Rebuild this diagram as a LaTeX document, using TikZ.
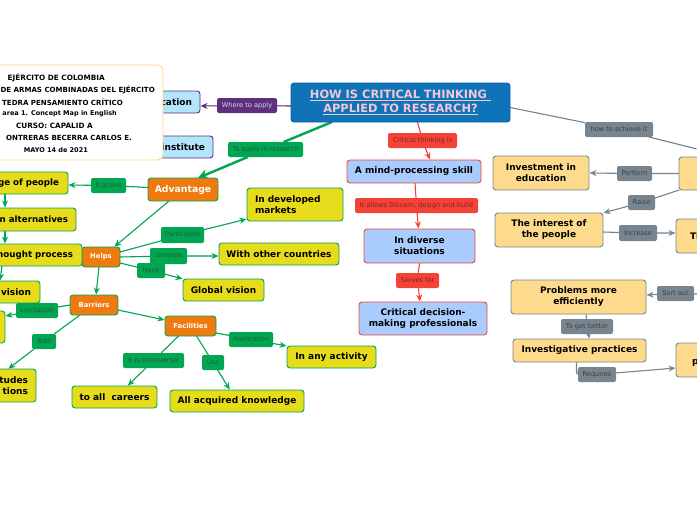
\documentclass[tikz,border=0pt]{standalone}
\usepackage{fontspec}
\setmainfont{DejaVu Sans}
\usetikzlibrary{arrows.meta,backgrounds,calc}
\definecolor{cyel}{HTML}{E7DC1C}
\definecolor{cgrn}{HTML}{00A651}
\definecolor{cgtx}{HTML}{1F5F3C}
\definecolor{corg}{HTML}{EE7A10}
\definecolor{cttl}{HTML}{0F73B8}
\definecolor{cttb}{HTML}{0A5FC0}
\definecolor{cpnk}{HTML}{F6C6D8}
\definecolor{cblu}{HTML}{A9CCFF}
\definecolor{cred}{HTML}{F44336}
\definecolor{crtx}{HTML}{7A2626}
\definecolor{cgry}{HTML}{78858F}
\definecolor{cgyt}{HTML}{36414A}
\definecolor{cpal}{HTML}{FEDB8C}
\definecolor{csky}{HTML}{B3E5FC}
\definecolor{cpur}{HTML}{5E2F7E}
\definecolor{chdr}{HTML}{FDD57E}
\tikzset{
  boxbase/.style={rectangle,rounded corners=3pt,inner sep=0pt,outer sep=0pt,line width=.9pt,align=center},
  bigfont/.style={font=\bfseries\fontsize{9}{11}\selectfont,text=black},
  yelbox/.style={boxbase,bigfont,fill=cyel,draw=cgrn},
  yeledge/.style={yelbox,font=\bfseries\fontsize{8.7}{11}\selectfont},
  orgbig/.style={boxbase,font=\bfseries\fontsize{9.3}{11}\selectfont,text=white,fill=corg,draw=cgrn},
  orgsmall/.style={boxbase,font=\bfseries\fontsize{6.8}{8}\selectfont,text=white,fill=corg,draw=cgrn},
  blubox/.style={boxbase,bigfont,fill=cblu,draw=cred},
  palbox/.style={boxbase,bigfont,fill=cpal,draw=cgry},
  skybox/.style={boxbase,bigfont,fill=csky,draw=cpur},
  ttlbox/.style={boxbase,font=\bfseries\fontsize{11.4}{14}\selectfont,text=cpnk,fill=cttl,draw=cttb},
  hdrbox/.style={boxbase,fill=white,draw=chdr,rounded corners=5pt},
  hdrline/.style={inner sep=0pt,anchor=east,font=\bfseries\fontsize{7.3}{8}\selectfont,text=black},
  hdredge/.style={hdrline,font=\bfseries\fontsize{7.05}{8}\selectfont},
  hdrlow/.style={hdrline,font=\bfseries\fontsize{6.5}{8}\selectfont},
  lab/.style={boxbase,rounded corners=2pt,line width=0pt,font=\fontsize{6.6}{8}\selectfont},
  grnlab/.style={lab,fill=cgrn,text=cgtx},
  redlab/.style={lab,fill=cred,text=crtx},
  grylab/.style={lab,fill=cgry,text=cgyt},
  purlab/.style={lab,fill=cpur,text=white!85!black},
  conn/.style={line width=1.1pt,-{Stealth[length=7pt,width=6pt]},shorten >=.5pt},
  gconn/.style={conn,draw=cgrn,fill=cgrn},
  rconn/.style={conn,draw=cred,fill=cred},
  yconn/.style={conn,draw=cgry,fill=cgry},
  pconn/.style={conn,draw=cpur,fill=cpur},
  gbig/.style={line width=2.4pt,draw=cgrn,-{Stealth[length=10pt,width=10pt]}},
}
% \rn{name}{style}{x1}{y1}{x2}{y2}{text}
\newcommand{\rn}[7]{\node[#2,minimum width={(#5-#3)*1pt},minimum height={(#6-#4)*1pt}] (#1) at ({(#3+#5)/2},{(#4+#6)/2}) {#7};}
% \rnr: text ends #8 before the right edge (box runs off the left side)
\newcommand{\rnr}[8]{\node[#2,minimum height={(#6-#4)*1pt},inner xsep=#8pt,text width={(#5-#3-2*#8)*1pt},align=right] (#1) at ({(#3+#5)/2},{(#4+#6)/2}) {#7};}
% \rnl: text starts #8 after the left edge (box runs off the right side)
\newcommand{\rnl}[8]{\node[#2,minimum height={(#6-#4)*1pt},inner xsep=#8pt,text width={(#5-#3-2*#8)*1pt},align=left] (#1) at ({(#3+#5)/2},{(#4+#6)/2}) {#7};}
\begin{document}
\begin{tikzpicture}[x=1pt,y=-1pt]
\useasboundingbox (0,0) rectangle (697,520);
% centre
\rn{title}{ttlbox}{291}{83}{510}{122}{\underline{HOW IS CRITICAL THINKING\ }\\\underline{APPLIED TO RESEARCH?}}
% sky boxes and header
\rnr{cation}{skybox}{100}{91}{200}{113}{cation}{8}
\rnr{inst}{skybox}{100}{136}{213}{158}{institute}{8}
\rn{hdr}{hdrbox}{-55}{65}{163}{160}{}
\node[hdrline] (h1) at (105,78) {EJÉRCITO DE COLOMBIA};
\node[hdredge] (h2) at (155,90) {DE ARMAS COMBINADAS DEL EJÉRCITO};
\node[hdredge] (h3) at (123,102) {TEDRA PENSAMIENTO CRÍTICO};
\node[hdrlow] (h4) at (117,114) {area 1. Concept Map in English};
\node[hdrline] (h5) at (93,126) {CURSO: CAPALID A};
\node[hdredge] (h6) at (132,138) {ONTRERAS BECERRA CARLOS E.};
\node[hdrlow] (h7) at (88,150) {MAYO 14 de 2021};
% left branch
\rn{adv}{orgbig}{148}{178}{218}{201}{Advantage}
\rn{helps}{orgsmall}{82}{247}{120}{267}{Helps}
\rn{bar}{orgsmall}{70}{295}{118}{315}{Barriers}
\rn{fac}{orgsmall}{165}{316}{216}{336}{Facilities}
\rnr{people}{yeledge}{-40}{172}{68}{194}{ge of people}{9}
\rnr{alts}{yeledge}{-40}{208}{76}{231}{n alternatives}{8}
\rnr{thought}{yeledge}{-40}{244}{82}{266}{hought process}{9}
\rnr{vision}{yelbox}{-40}{281}{40}{303}{vision}{9}
\rn{blank}{yelbox}{-40}{311}{5}{343}{}
\rnr{tudes}{yelbox}{-40}{369}{36}{402}{tudes\\tions\hspace{2pt}}{8}
\rnl{dev}{yelbox}{247}{188}{343}{221}{In developed\\markets}{8}
\rn{others}{yelbox}{219}{243}{339}{265}{With other countries}
\rn{glob}{yelbox}{183}{279}{264}{301}{Global vision}
\rn{any}{yelbox}{287}{346}{376}{368}{In any activity}
\rn{careers}{yelbox}{72}{386}{157}{408}{to all\ \ careers}
\rn{know}{yelbox}{170}{390}{304}{412}{All acquired knowledge}
% labels left
\rn{lwhere}{purlab}{217}{98}{277}{113}{Where to apply}
\rn{lapply}{grnlab}{228}{142}{303}{157}{To apply in research}
\rn{lgrows}{grnlab}{91}{178}{126}{193}{It grows}
\rn{lpart}{grnlab}{161}{227}{204}{243}{Participate}
\rn{lcomp}{grnlab}{150}{248}{187}{264}{compete}
\rn{lhave}{grnlab}{137}{263}{165}{278}{Have}
\rn{llim}{grnlab}{16}{303}{58}{318}{Limitation}
\rn{lbad}{grnlab}{32}{334}{56}{349}{Bad}
\rn{ltrans}{grnlab}{123}{353}{184}{368}{It is transversal}
\rn{luse}{grnlab}{202}{355}{224}{370}{Use}
\rn{lappl}{grnlab}{229}{332}{273}{347}{Application}
% middle
\rn{mind}{blubox}{347}{160}{481}{183}{A mind-processing skill}
\rn{diverse}{blubox}{364}{229}{475}{263}{In diverse\\situations}
\rn{crit}{blubox}{359}{302}{487}{335}{Critical decision-\\making professionals}
\rn{lcrit}{redlab}{388}{133}{457}{148}{Critical thinking is}
\rn{lallow}{redlab}{355}{198}{478}{213}{It allows Discern, design and build}
\rn{lserve}{redlab}{396}{273}{439}{288}{Serves for}
% right
\rn{invest}{palbox}{493}{156}{589}{190}{Investment in\\education}
\rn{interest}{palbox}{495}{213}{603}{247}{The interest of\\the people}
\rn{prob}{palbox}{511}{280}{646}{314}{Problems more\\efficiently}
\rn{prac}{palbox}{513}{339}{646}{362}{Investigative practices}
\rn{topr}{palbox}{679}{157}{760}{190}{}
\rnl{thr}{palbox}{676}{219}{760}{253}{Th}{14}
\rnl{pbox}{palbox}{676}{343}{760}{377}{\\p}{16}
\rn{lach}{grylab}{585}{122}{653}{137}{how to achieve it}
\rn{lperf}{grylab}{617}{166}{652}{181}{Perform}
\rn{lrais}{grylab}{628}{195}{655}{210}{Raise}
\rn{lincr}{grylab}{619}{225}{657}{241}{Increase}
\rn{lsort}{grylab}{657}{286}{694}{301}{Sort out}
\rn{lbett}{grylab}{561}{319}{613}{334}{To get better}
\rn{lreq}{grylab}{578}{367}{616}{382}{Requires}
\coordinate (offach) at (697,149);
\coordinate (offsort) at (697,294);
\begin{pgfonlayer}{background}
\draw[pconn] ([yshift=-3.5]title.west) -- (lwhere) -- ([yshift=-4]cation.east);
\draw[gbig] ([xshift=-68.5]title.south) -- (lapply) -- ([xshift=15]adv.north);
\draw[gconn] ([yshift=2]adv.west) -- (lgrows) -- ([yshift=-2]people.east);
\draw[gconn] ([xshift=-14]adv.south) -- ([xshift=13]helps.north);
\draw[gconn] ([xshift=-63]people.south east) -- ([xshift=-71]alts.north east);
\draw[gconn] ([xshift=-71]alts.south east) -- ([xshift=-77]thought.north east);
\draw[gconn] ([xshift=-80]thought.south east) -- ([xshift=-40]vision.north east);
\draw[gconn] ([yshift=5]helps.east) -- (lpart) -- ([yshift=-14.5]dev.west);
\draw[gconn] (helps.east) -- (lcomp) -- ([yshift=-2]others.west);
\draw[gconn] ([yshift=-6]helps.east) -- (lhave) -- (glob.north west);
\draw[gconn] ([xshift=-2]helps.south) -- ([xshift=2]bar.north);
\draw[gconn] (bar.west) -- (llim) -- ([yshift=11]blank.east);
\draw[gconn] ([xshift=-14]bar.south) -- (lbad) -- ([xshift=-28]tudes.north east);
\draw[gconn] ([yshift=-5]bar.east) -- ([yshift=6]fac.west);
\draw[gconn] ([yshift=-7]fac.east) -- (lappl) -- (any.north west);
\draw[gconn] ([xshift=-12]fac.south) -- (ltrans) -- ([xshift=13]careers.north);
\draw[gconn] ([xshift=6]fac.south) -- (luse) -- ([xshift=-7]know.north);
\draw[rconn] ([xshift=17]title.south) -- (lcrit) -- ([xshift=16]mind.north);
\draw[rconn] ([xshift=1]mind.south) -- (lallow) -- ([xshift=-1]diverse.north);
\draw[rconn] (diverse.south) -- (lserve) -- ([xshift=-3]crit.north);
\draw[yconn,-] ([yshift=-5]title.east) -- (lach) -- (offach);
\draw[yconn] (topr.west) -- (lperf) -- (invest.east);
\draw[yconn] (topr.south west) -- (lrais) -- (interest.north east);
\draw[yconn] ([yshift=-2]interest.east) -- (lincr) -- ([yshift=3]thr.west);
\draw[yconn] (offsort) -- (lsort) -- ([yshift=2]prob.east);
\draw[yconn] ([xshift=7.5]prob.south) -- (lbett) -- ([xshift=10]prac.north);
\draw[yconn,-] ([xshift=-3]prac.south) .. controls +(0,7) and +(-2,-1) .. (lreq.west);
\draw[yconn] (lreq) -- ([yshift=-8]pbox.west);
\end{pgfonlayer}
\end{tikzpicture}
\end{document}
